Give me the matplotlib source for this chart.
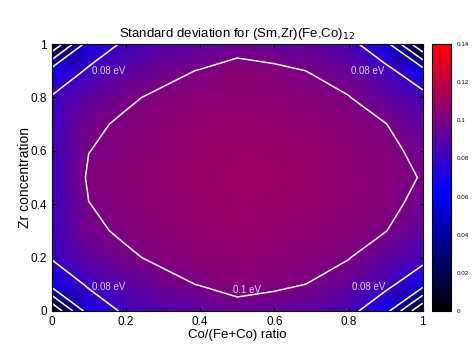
import matplotlib
matplotlib.use("Agg")
import matplotlib.pyplot as plt
from matplotlib.colors import LinearSegmentedColormap
import numpy as np

# Grid (0.1 steps on both axes)
co_ratio = [0.0, 0.1, 0.2, 0.3, 0.4, 0.5, 0.6, 0.7, 0.8, 0.9, 1.0]
zr_conc = [0.0, 0.1, 0.2, 0.3, 0.4, 0.5, 0.6, 0.7, 0.8, 0.9, 1.0]

# std dev (eV), one row per Zr concentration, columns follow co_ratio
std_rows = [
    [0.000, 0.070, 0.0825, 0.088, 0.091, 0.0945, 0.093, 0.091, 0.085, 0.067, 0.000],
    [0.068, 0.082, 0.090, 0.097, 0.1005, 0.105, 0.1025, 0.0995, 0.094, 0.0843, 0.068],
    [0.081, 0.092, 0.0985, 0.102, 0.105, 0.106, 0.1055, 0.1035, 0.1005, 0.092, 0.0847],
    [0.082, 0.098, 0.1016, 0.1045, 0.107, 0.108, 0.1075, 0.106, 0.1035, 0.1003, 0.091],
    [0.082, 0.0998, 0.1035, 0.106, 0.108, 0.109, 0.1085, 0.1075, 0.1055, 0.103, 0.0967],
    [0.082, 0.1018, 0.105, 0.107, 0.109, 0.110, 0.110, 0.1085, 0.1065, 0.1035, 0.0994],
    [0.082, 0.0998, 0.1035, 0.106, 0.108, 0.109, 0.1085, 0.1075, 0.1055, 0.103, 0.0967],
    [0.082, 0.098, 0.1016, 0.1045, 0.107, 0.108, 0.1075, 0.106, 0.1035, 0.1003, 0.091],
    [0.081, 0.092, 0.0985, 0.102, 0.105, 0.106, 0.1055, 0.1035, 0.1005, 0.092, 0.0847],
    [0.068, 0.082, 0.090, 0.097, 0.1005, 0.105, 0.1025, 0.0995, 0.094, 0.0843, 0.068],
    [0.000, 0.070, 0.0825, 0.088, 0.091, 0.0945, 0.093, 0.091, 0.085, 0.067, 0.000],
]

contour_levels = [0.02, 0.04, 0.06, 0.08, 0.1]
# (x, y, text) for the contour annotations
contour_labels = [
    (0.153, 0.90, "0.08 eV"),
    (0.852, 0.90, "0.08 eV"),
    (0.153, 0.09, "0.08 eV"),
    (0.853, 0.09, "0.08 eV"),
    (0.527, 0.08, "0.1 eV"),
]

plt.rcParams["font.family"] = ["Liberation Sans", "DejaVu Sans"]

X, Y = np.meshgrid(co_ratio, zr_conc)
Z = np.array(std_rows)

cmap = LinearSegmentedColormap.from_list(
    "kbr", [(0.0, "black"), (0.45, "blue"), (1.0, "red")])

fig = plt.figure(figsize=(4.74, 3.55), dpi=100)
ax = fig.add_axes([0.109, 0.124, 0.783, 0.752])
cax = fig.add_axes([0.911, 0.124, 0.040, 0.752])

mesh = ax.pcolormesh(X, Y, Z, shading="gouraud", cmap=cmap, vmin=0, vmax=0.14)
ax.contour(X, Y, Z, levels=contour_levels, colors="white", linewidths=1.1)

for x, y, txt in contour_labels:
    ax.text(x, y, txt, color="#ddd0ff", fontsize=7, ha="center", va="center")

ax.set_xlim(0, 1)
ax.set_ylim(0, 1)
ticks = [0, 0.2, 0.4, 0.6, 0.8, 1]
tick_text = ["0", "0.2", "0.4", "0.6", "0.8", "1"]
ax.set_xticks(ticks, tick_text)
ax.set_yticks(ticks, tick_text)
ax.tick_params(direction="in", length=3, labelsize=8.5, top=True, right=True)
ax.set_xlabel("Co/(Fe+Co) ratio", fontsize=9.5, labelpad=1)
ax.set_ylabel("Zr concentration", fontsize=10, labelpad=-1)
ax.set_title("Standard deviation for (Sm,Zr)(Fe,Co)$_{12}$", fontsize=9.5, pad=5)

cb = fig.colorbar(mesh, cax=cax)
cb.set_ticks([0, 0.02, 0.04, 0.06, 0.08, 0.1, 0.12, 0.14],
             labels=["0", "0.02", "0.04", "0.06", "0.08", "0.1", "0.12", "0.14"])
cb.ax.tick_params(labelsize=4.5, length=0, pad=4)
cb.outline.set_linewidth(0.8)

fig.savefig("out.png", dpi=100)
plt.close(fig)
